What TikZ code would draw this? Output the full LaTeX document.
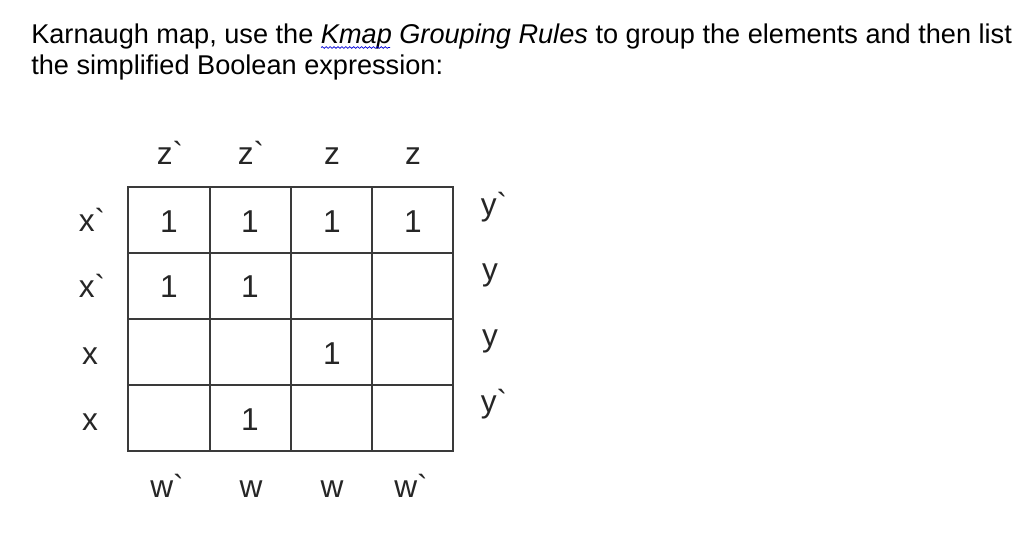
\documentclass[tikz,border=0pt]{standalone}
\usepackage{fontspec}
\setmainfont{Liberation Sans}[Ligatures=TeXOff]
\usepackage{xcolor}
\usetikzlibrary{decorations.pathmorphing}
\definecolor{gridgray}{HTML}{3A3A3A}
\definecolor{textgray}{HTML}{262626}

\begin{document}
\begin{tikzpicture}[x=0.025cm,y=-0.025cm,
    lab/.style={anchor=base,inner sep=0pt,text=textgray,font=\fontsize{22.5}{26}\selectfont},
    title/.style={anchor=base west,inner sep=0pt,font=\fontsize{19.3}{23}\selectfont},
    cell/.style={draw=gridgray,line width=0.9pt}]
    \useasboundingbox (0,0) rectangle (1024,543);
    % Enunciado:
    \node[title] (t1) at (31,44) {Karnaugh map, use the \textit{Kmap Grouping Rules} to group the elements and then list};
    \node[title] (t2) at (31,75) {the simplified Boolean expression:};
    \coordinate (s1) at (321,47.5);
    \coordinate (s2) at (390,47.5);
    \draw[blue!85!black,line width=0.5pt,decorate,decoration={snake,amplitude=0.6pt,segment length=2.8pt}] (s1) -- (s2);
    % Mapa:
    \draw[cell] (128,187) rectangle (453,451);
    \draw[cell] (210,187) -- (210,451);
    \draw[cell] (291,187) -- (291,451);
    \draw[cell] (372,187) -- (372,451);
    \draw[cell] (128,253) -- (453,253);
    \draw[cell] (128,319) -- (453,319);
    \draw[cell] (128,385) -- (453,385);
    % Variaveis em cima:
    \node[lab] (z1) at (170,165) {z`};
    \node[lab] (z2) at (251,165) {z`};
    \node[lab] (z3) at (332,165) {z};
    \node[lab] (z4) at (413,165) {z};
    % Variaveis a esquerda:
    \node[lab] (x1) at (92,232) {x`};
    \node[lab] (x2) at (92,298) {x`};
    \node[lab] (x3) at (90,364) {x};
    \node[lab] (x4) at (90,430) {x};
    % Variaveis a direita:
    \node[lab] (y1) at (494,216) {y`};
    \node[lab] (y2) at (490,281) {y};
    \node[lab] (y3) at (490,347) {y};
    \node[lab] (y4) at (494,412) {y`};
    % Variaveis em baixo:
    \node[lab] (w1) at (167,497) {w`};
    \node[lab] (w2) at (251,497) {w};
    \node[lab] (w3) at (332,497) {w};
    \node[lab] (w4) at (411,497) {w`};
    % Uns:
    \node[lab] (c11) at (169,233) {1};
    \node[lab] (c12) at (250,233) {1};
    \node[lab] (c13) at (332,233) {1};
    \node[lab] (c14) at (413,233) {1};
    \node[lab] (c21) at (169,298) {1};
    \node[lab] (c22) at (250,298) {1};
    \node[lab] (c33) at (332,364) {1};
    \node[lab] (c42) at (250,430) {1};
\end{tikzpicture}
\end{document}
